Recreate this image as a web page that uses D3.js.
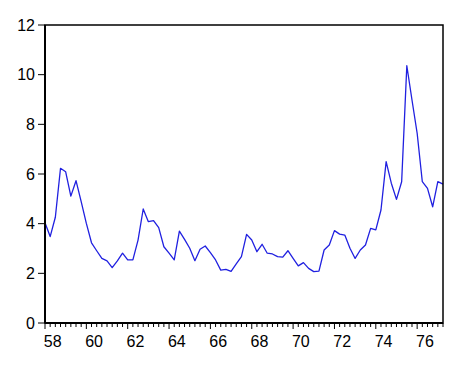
<!DOCTYPE html>
<html>
<head>
<meta charset="utf-8">
<script src="https://cdn.jsdelivr.net/npm/d3@7"></script>
<style>
  body { margin: 0; background: #fff; }
  text { font-family: "Liberation Sans", Arial, sans-serif; }
</style>
</head>
<body>
<svg id="chart" width="474" height="368"></svg>
<script>
// quarterly series, 1958Q1 .. 1977Q2
const startYear = 1958;
const values = [
  4.04, 3.48, 4.26, 6.23, 6.09, 5.11, 5.73, 4.89, 4.01, 3.23,
  2.91, 2.6, 2.5, 2.23, 2.5, 2.81, 2.54, 2.54, 3.34, 4.59,
  4.08, 4.12, 3.84, 3.07, 2.81, 2.54, 3.7, 3.37, 3.01, 2.51,
  2.97, 3.1, 2.83, 2.54, 2.13, 2.16, 2.08, 2.38, 2.67, 3.57,
  3.34, 2.87, 3.17, 2.81, 2.78, 2.67, 2.65, 2.91, 2.6, 2.3,
  2.43, 2.2, 2.07, 2.09, 2.94, 3.14, 3.72, 3.58, 3.54, 3.01,
  2.6, 2.94, 3.14, 3.81, 3.75, 4.55, 6.5, 5.63, 4.98, 5.69,
  10.36, 8.98, 7.64, 5.69, 5.42, 4.68, 5.69, 5.59
];
const yTicks = [0, 2, 4, 6, 8, 10, 12];
const xLabels = ["58", "60", "62", "64", "66", "68", "70", "72", "74", "76"];

const svg = d3.select("#chart");
const m = { left: 45, right: 443, top: 25, bottom: 323 };

const x = d3.scaleLinear().domain([0, values.length - 1]).range([m.left, m.right]);
const y = d3.scaleLinear().domain([0, 12]).range([m.bottom, m.top]);

// y axis ticks + labels
const yAxis = svg.append("g");
yAxis.selectAll("line")
  .data(yTicks)
  .join("line")
  .attr("x1", m.left - 7).attr("x2", m.left)
  .attr("y1", d => y(d)).attr("y2", d => y(d))
  .attr("stroke", "#000").attr("stroke-width", 1);
yAxis.selectAll("text")
  .data(yTicks)
  .join("text")
  .attr("x", m.left - 10)
  .attr("y", d => y(d))
  .attr("dy", "0.36em")
  .attr("text-anchor", "end")
  .attr("font-size", 16)
  .text(d => d);

// x axis: quarter ticks, longer at even years
const quarters = d3.range(0, values.length);
svg.append("g").selectAll("line")
  .data(quarters)
  .join("line")
  .attr("x1", d => x(d)).attr("x2", d => x(d))
  .attr("y1", m.bottom)
  .attr("y2", d => (d % 8 === 0 ? m.bottom + 6 : m.bottom + 4))
  .attr("stroke", "#000").attr("stroke-width", 1);

svg.append("g").selectAll("text")
  .data(xLabels)
  .join("text")
  .attr("x", (d, i) => x(i * 8 + 1.5))
  .attr("y", m.bottom + 24)
  .attr("text-anchor", "middle")
  .attr("font-size", 16)
  .text(d => d);

// data line
const line = d3.line()
  .x((d, i) => x(i))
  .y(d => y(d));
svg.append("path")
  .datum(values)
  .attr("d", line)
  .attr("fill", "none")
  .attr("stroke", "#2020e0")
  .attr("stroke-width", 1.3)
  .attr("stroke-linejoin", "round");

// frame
svg.append("rect")
  .attr("x", m.left).attr("y", m.top)
  .attr("width", m.right - m.left).attr("height", m.bottom - m.top)
  .attr("fill", "none")
  .attr("stroke", "#000").attr("stroke-width", 1.5);
svg.append("line")
  .attr("x1", m.left).attr("x2", m.left).attr("y1", m.top).attr("y2", m.bottom)
  .attr("stroke", "#000").attr("stroke-width", 2);
svg.append("line")
  .attr("x1", m.left).attr("x2", m.right).attr("y1", m.bottom).attr("y2", m.bottom)
  .attr("stroke", "#000").attr("stroke-width", 2);
</script>
</body>
</html>
